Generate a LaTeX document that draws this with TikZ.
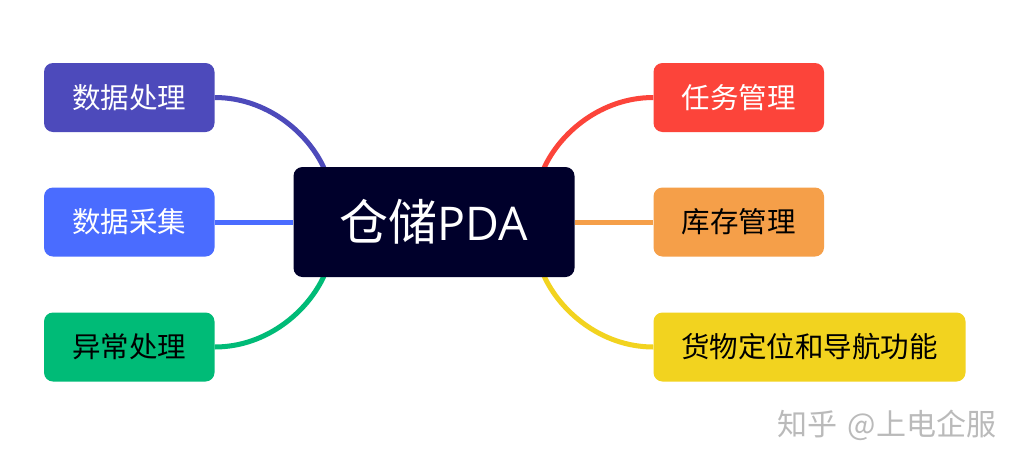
\documentclass[tikz,border=0pt]{standalone}
\usepackage{fontspec}
\setmainfont{Noto Sans CJK SC}
\newfontfamily\latinhub{Open Sans}
\usetikzlibrary{backgrounds}
\definecolor{cPurple}{HTML}{4D4ABB}
\definecolor{cBlue}{HTML}{4A6CFF}
\definecolor{cGreen}{HTML}{00BB77}
\definecolor{cRed}{HTML}{FC443A}
\definecolor{cOrange}{HTML}{F59F49}
\definecolor{cYellow}{HTML}{F2D31F}
\definecolor{cNavy}{HTML}{00002B}
\tikzset{
  x=1pt,y=-1pt,
  leaf/.style={rounded corners=9pt,minimum width=170.5pt,minimum height=69pt,inner sep=0pt,font=\fontsize{28.5}{30}\selectfont},
  wide/.style={leaf,minimum width=312pt},
  hub/.style={rounded corners=9pt,minimum width=281pt,minimum height=110pt,inner sep=0pt,fill=cNavy,text=white,font=\fontsize{49}{50}\selectfont},
  link/.style={line width=5pt},
  wm/.style={inner sep=0pt,text=black!27,font=\fontsize{30}{32}\selectfont}
}
\begin{document}
\begin{tikzpicture}
\useasboundingbox (0,0) rectangle (1024,469);
\node[hub] (hubn) at (434,222) {仓储{\latinhub\fontsize{46.5}{50}\selectfont PDA}};
\node[leaf,fill=cPurple,text=white] (a) at (129.25,97.5) {数据处理};
\node[leaf,fill=cBlue,text=white] (b) at (129.25,222) {数据采集};
\node[leaf,fill=cGreen,text=black] (c) at (129.25,347) {异常处理};
\node[leaf,fill=cRed,text=white] (d) at (738.75,97.5) {任务管理};
\node[leaf,fill=cOrange,text=black] (e) at (738.75,222) {库存管理};
\node[wide,fill=cYellow,text=black] (f) at (809.5,347) {货物定位和导航功能};
\node[wm,anchor=center] (w) at (887,425) {知乎\hspace{3pt} @上电企服};
\coordinate (hnw) at ([shift={(31,2)}]hubn.north west);
\coordinate (hsw) at ([shift={(31,-2)}]hubn.south west);
\coordinate (hne) at ([shift={(-31,2)}]hubn.north east);
\coordinate (hse) at ([shift={(-31,-2)}]hubn.south east);
\begin{scope}[on background layer]
\fill[white] (0,0) rectangle (1024,469);
\draw[link,cPurple] (a.east) .. controls +(52,0) and +(-16,-36) .. (hnw);
\draw[link,cBlue] (b.east) -- (hubn.west |- b.east);
\draw[link,cGreen] (c.east) .. controls +(52,0) and +(-16,36) .. (hsw);
\draw[link,cRed] (d.west) .. controls +(-52,0) and +(16,-36) .. (hne);
\draw[link,cOrange] (e.west) -- (hubn.east |- e.west);
\draw[link,cYellow] (f.west) .. controls +(-52,0) and +(16,36) .. (hse);
\end{scope}
\end{tikzpicture}
\end{document}
